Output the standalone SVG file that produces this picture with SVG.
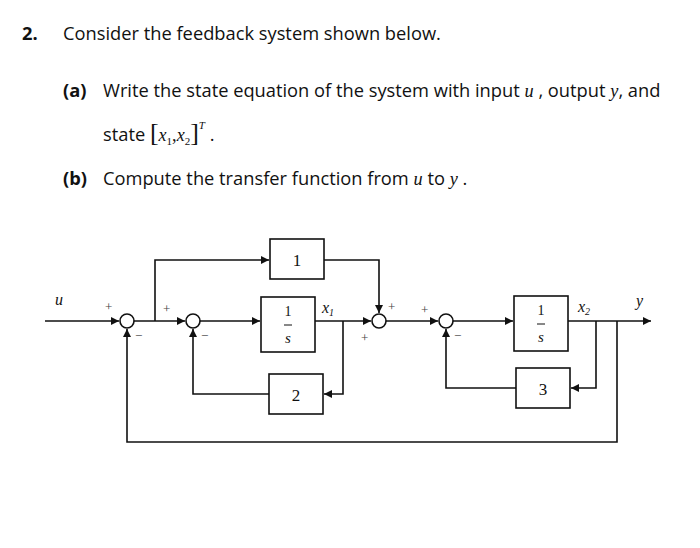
<svg xmlns="http://www.w3.org/2000/svg" width="700" height="548" viewBox="0 0 700 548">
<style>
.t{font-family:"Open Sans","Liberation Sans",Arial,sans-serif;font-size:18.3px;fill:#111}
.b{font-weight:bold}
.m{font-family:"Liberation Serif","Times New Roman",serif;font-style:italic;fill:#111}
.n{font-family:"Liberation Serif","Times New Roman",serif;fill:#111}
.s{font-family:"Liberation Serif",serif;font-size:13px;fill:#444}
.w{fill:none;stroke:#111;stroke-width:1.6}
.bx{fill:#fff;stroke:#111;stroke-width:1.6}
.c{fill:#fff;stroke:#111;stroke-width:1.6}
</style>
<defs><marker id="a" viewBox="0 0 10 10" refX="10" refY="5" markerWidth="8" markerHeight="8" markerUnits="userSpaceOnUse" orient="auto"><path d="M0,0L10,5L0,10z" fill="#111"/></marker></defs>
<rect width="700" height="548" fill="#fff"/>
<text class="t b" x="22" y="40">2.</text>
<text class="t" x="63" y="40">Consider the feedback system shown below.</text>
<text class="t b" x="63" y="97">(a)</text>
<text class="t" x="103" y="97">Write the state equation of the system with input <tspan class="m">u</tspan> , output <tspan class="m">y</tspan>, and</text>
<text class="t" x="103" y="141">state <tspan class="n" style="font-size:26px">[</tspan><tspan class="m" style="font-size:18px">x</tspan><tspan class="n" style="font-size:11px" dy="4">1</tspan><tspan class="n" dy="-4">,</tspan><tspan class="m" style="font-size:18px">x</tspan><tspan class="n" style="font-size:11px" dy="4">2</tspan><tspan class="n" style="font-size:26px" dy="-4">]</tspan><tspan class="m" style="font-size:11px" dy="-12">T</tspan><tspan dy="12"> .</tspan></text>
<text class="t b" x="63" y="185">(b)</text>
<text class="t" x="103" y="185">Compute the transfer function from <tspan class="m">u</tspan>  to <tspan class="m">y</tspan> .</text>
<g id="connectors">
<path class="w" d="M45,321H119" marker-end="url(#a)"/>
<path class="w" d="M134,321H185" marker-end="url(#a)"/>
<path class="w" d="M155,321V260H269" marker-end="url(#a)"/>
<path class="w" d="M200,321H260" marker-end="url(#a)"/>
<path class="w" d="M315,321H371" marker-end="url(#a)"/>
<path class="w" d="M343,321V394H324" marker-end="url(#a)"/>
<path class="w" d="M269,394H193V329" marker-end="url(#a)"/>
<path class="w" d="M324,260H379V313" marker-end="url(#a)"/>
<path class="w" d="M386,321H438" marker-end="url(#a)"/>
<path class="w" d="M453,321H513" marker-end="url(#a)"/>
<path class="w" d="M568,321H651" marker-end="url(#a)"/>
<path class="w" d="M596,321V388H571" marker-end="url(#a)"/>
<path class="w" d="M516,388H446V329" marker-end="url(#a)"/>
<path class="w" d="M617,321V442H127V329" marker-end="url(#a)"/>
</g>
<g id="sum1"><circle class="c" cx="127" cy="321" r="7"/><text class="s" x="105" y="311">+</text><text class="s" x="135" y="340">−</text></g>
<g id="sum2"><circle class="c" cx="193" cy="321" r="7"/><text class="s" x="163" y="313">+</text><text class="s" x="201" y="340">−</text></g>
<g id="sum3"><circle class="c" cx="379" cy="321" r="7"/><text class="s" x="388" y="311">+</text><text class="s" x="361" y="342">+</text></g>
<g id="sum4"><circle class="c" cx="446" cy="321" r="7"/><text class="s" x="421" y="314">+</text><text class="s" x="454" y="340">−</text></g>
<g id="box1"><rect class="bx" x="270" y="239" width="54" height="40"/><text class="n" x="297" y="266" text-anchor="middle" style="font-size:17px">1</text></g>
<g id="int1"><rect class="bx" x="261" y="297" width="54" height="55"/><text class="n" x="288" y="316" text-anchor="middle" style="font-size:14px">1</text><path d="M284,325H292" stroke="#111"/><text class="m" x="288" y="343" text-anchor="middle" style="font-size:15px">s</text></g>
<g id="box2"><rect class="bx" x="269" y="374" width="54" height="40"/><text class="n" x="296" y="401" text-anchor="middle" style="font-size:17px">2</text></g>
<g id="int2"><rect class="bx" x="514" y="296" width="54" height="55"/><text class="n" x="541" y="315" text-anchor="middle" style="font-size:14px">1</text><path d="M537,324H545" stroke="#111"/><text class="m" x="541" y="342" text-anchor="middle" style="font-size:15px">s</text></g>
<g id="box3"><rect class="bx" x="516" y="368" width="54" height="40"/><text class="n" x="543" y="395" text-anchor="middle" style="font-size:17px">3</text></g>
<text class="m" x="55" y="305" style="font-size:16px">u</text>
<text class="m" x="322" y="313" style="font-size:16px">x<tspan class="n" style="font-size:10px" dy="3">1</tspan></text>
<text class="m" x="578" y="312" style="font-size:16px">x<tspan class="n" style="font-size:10px" dy="3">2</tspan></text>
<text class="m" x="636" y="306" style="font-size:16px">y</text>
</svg>
